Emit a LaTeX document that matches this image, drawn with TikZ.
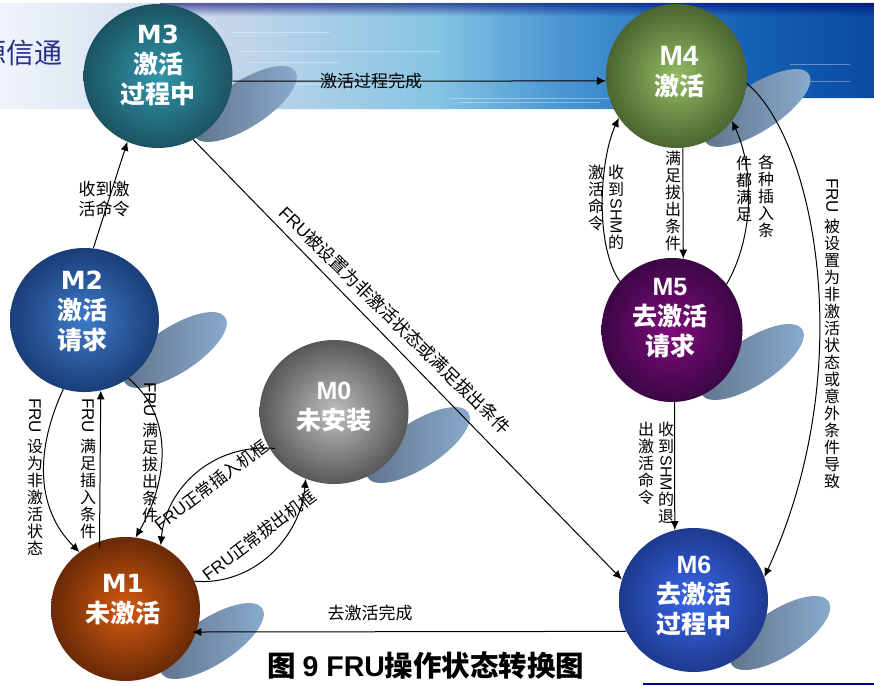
\documentclass[tikz,border=0pt]{standalone}
\usepackage{fontspec}
\setmainfont{Noto Sans CJK SC}
\newfontfamily\vdn{DejaVu Sans}
\newfontfamily\ari{Liberation Sans}
\usetikzlibrary{arrows.meta,shapes.geometric,fadings}
\definecolor{banner0}{HTML}{F0F4FA}
\definecolor{banner1}{HTML}{C5D6EA}
\definecolor{banner2}{HTML}{85C4E3}
\definecolor{banner3}{HTML}{4A97D3}
\definecolor{banner4}{HTML}{1460B5}
\definecolor{banner5}{HTML}{0A4BA3}
\definecolor{blobdark}{HTML}{5F7289}
\definecolor{bloblight}{HTML}{8BADD0}
\definecolor{titleblue}{HTML}{2A2F8F}
\definecolor{tealin}{HTML}{3196AA}
\definecolor{tealout}{HTML}{1B5462}
\definecolor{olivein}{HTML}{93BC64}
\definecolor{oliveout}{HTML}{4C6530}
\definecolor{plumin}{HTML}{800C7E}
\definecolor{plumout}{HTML}{3C0645}
\definecolor{royalin}{HTML}{3A68EA}
\definecolor{royalout}{HTML}{1E3A8F}
\definecolor{greyin}{HTML}{BEBEBE}
\definecolor{greyout}{HTML}{585858}
\definecolor{skyin}{HTML}{3F7AC8}
\definecolor{skyout}{HTML}{1A3E78}
\definecolor{rustin}{HTML}{D65A10}
\definecolor{rustout}{HTML}{692A06}
\pgfdeclarehorizontalshading{banner}{100bp}{
    color(0bp)=(banner0); color(25bp)=(banner0); color(38bp)=(banner1); color(50bp)=(banner2);
    color(57bp)=(banner3); color(68bp)=(banner4); color(75bp)=(banner5); color(100bp)=(banner5)}
\tikzset{
    state/.style = {ellipse,minimum width=149pt,minimum height=144pt,inner sep=0pt,inner color=#1in,outer color=#1out},
    statetext/.style = {align=center,text=white,font=\fontsize{25}{30}\selectfont\bfseries,inner sep=0pt},
    blob/.style = {shift={#1},rotate=33,left color=blobdark,right color=bloblight},
    conn/.style = {-{Latex[length=9pt,width=8pt]},line width=1pt},
    edgetext/.style = {align=center,inner sep=0pt,font=\fontsize{17}{20}\selectfont},
    vtext/.style = {align=center,inner sep=0pt,anchor=north,font=\fontsize{16}{17}\selectfont}
}
\newcommand{\fru}{\rotatebox{-90}{\ari\fontsize{17}{17}\selectfont FRU\hspace{5pt}}}
\newcommand{\shm}{\rotatebox{-90}{\ari SHM}}
\begin{document}
\begin{tikzpicture}[x=1pt,y=-1pt]
    \useasboundingbox (0,0) rectangle (874,685);
    \shade[shading=banner] (0,3) -- (874,3) -- (874,98) -- (790,98) -- (770,109) -- (0,109) -- cycle;
    \fill[blue!45!black,opacity=.6,path fading=south] (160,3) rectangle (874,16);
    \foreach \ya/\xa/\xb in {33/230/330,52/240/440,62/250/340,84/240/400,98/450/620,102/460/600,64/850/790,81/780/850}
        \draw[white,opacity=.35,line width=1pt] (\xa,\ya) -- (\xb,\ya);
    \node (brand) [anchor=east,text=titleblue,font=\fontsize{28}{28}\selectfont,inner sep=0pt] at (63,53) {源信通};
    \fill[blue!55!black] (643,683) rectangle (874,685);

    \shade[blob={(245,104)}] (0,0) ellipse [x radius=60,y radius=23];
    \shade[blob={(757,108)}] (0,0) ellipse [x radius=62,y radius=23];
    \shade[blob={(752,362)}] (0,0) ellipse [x radius=60,y radius=23];
    \shade[blob={(780,633)}] (0,0) ellipse [x radius=58,y radius=23];
    \shade[blob={(418,445)}] (0,0) ellipse [x radius=60,y radius=23];
    \shade[blob={(175,350)}] (0,0) ellipse [x radius=60,y radius=23];
    \shade[blob={(212,641)}] (0,0) ellipse [x radius=60,y radius=23];

    \node (m3) [state=teal] at (158,76) {};
    \node (m4) [state=olive,minimum width=141pt] at (676.5,76) {};
    \node (m5) [state=plum,minimum width=141pt] at (672,330) {};
    \node (m6) [state=royal] at (693.5,600) {};
    \node (m0) [state=grey] at (334,412) {};
    \node (m2) [state=sky] at (84.5,320) {};
    \node (m1) [state=rust] at (125.5,609) {};

    \node (m3t) [statetext] at (158,65) {{\vdn M3}\\激活\\过程中};
    \node (m4t) [statetext] at (679,72) {{\ari\fontsize{28}{30}\selectfont M4}\\激活};
    \node (m5t) [statetext] at (670,318) {{\ari M5}\\去激活\\请求};
    \node (m6t) [statetext] at (694,596) {{\ari M6}\\去激活\\过程中};
    \node (m0t) [statetext] at (334,407) {{\ari M0}\\未安装};
    \node (m2t) [statetext] at (82,311) {{\vdn M2}\\激活\\请求};
    \node (m1t) [statetext] at (123,600) {{\vdn M1}\\未激活};

    \draw[conn] (m3.-4) -- (m4.184);
    \draw[conn] (m2.83) -- (m3.245);
    \draw[conn] (m3.-61) -- (m6.164);
    \draw[conn] (m4.-85) -- (m5.81);
    \draw[conn] (m5.137) to[out=125,in=245,looseness=.7] (m4.216);
    \draw[conn] (m5.40) to[out=60,in=-65,looseness=.85] (m4.-39);
    \draw[conn] (m4.-6) .. controls (815,140) and (860,370) .. (m6.18);
    \draw[conn] (m5.-88) -- (m6.105);
    \draw[conn,shorten >=-4pt] (m6.205) -- (m1.-18);
    \draw[conn] (m2.253) to[out=245,in=135] (m1.129);
    \draw[conn,shorten <=-6pt] (m1.111.5) -- (m2.-77);
    \draw[conn] (m2.-53) to[out=-40,in=60] (m1.82);
    \draw[conn,shorten <=-6pt] (m0.209) to[out=175,in=85] (m1.61);
    \draw[conn] (m1.22) to[out=-5,in=-95] (m0.247);

    \node (l34) [edgetext] at (371,81) {激活过程完成};
    \node (l23) [edgetext] at (104,199) {收到激\\活命令};
    \node (l36) [edgetext,rotate=-44.5,font=\fontsize{17.5}{20}\selectfont] at (395,320) {{\ari FRU}被设置为非激活状态或满足拔出条件};
    \node (l61) [edgetext] at (370,613) {去激活完成};
    \node (l01) [edgetext,rotate=37] at (211,485) {{\ari FRU}正常插入机框};
    \node (l10) [edgetext,rotate=37] at (259,535) {{\ari FRU}正常拔出机框};

    \node (l21) [vtext] at (35,398) {\fru\\设\\为\\非\\激\\活\\状\\态};
    \node (l12) [vtext] at (88,398) {\fru\\满\\足\\插\\入\\条\\件};
    \node (l21b) [vtext] at (150,382) {\fru\\满\\足\\拔\\出\\条\\件};
    \node (l45) [vtext] at (673,151) {满\\足\\拔\\出\\条\\件};
    \node (l54a) [vtext] at (766,155) {各\\种\\插\\入\\条};
    \node (l54b) [vtext] at (744,156) {件\\都\\满\\足};
    \node (l54c) [vtext] at (616,165) {收\\到\\[-14pt]\shm\\的};
    \node (l54d) [vtext] at (596,165) {激\\活\\命\\令};
    \node (l56a) [vtext] at (666,422) {收\\到\\[-14pt]\shm\\的\\退};
    \node (l56b) [vtext] at (646,422) {出\\激\\活\\命\\令};
    \node (l46) [vtext] at (832,178) {\fru\\被\\设\\置\\为\\非\\激\\活\\状\\态\\或\\意\\外\\条\\件\\导\\致};

    \node (caption) [inner sep=0pt,font=\fontsize{28.5}{30}\selectfont\bfseries] at (426,666) {图 {\ari 9 FRU}操作状态转换图};
\end{tikzpicture}
\end{document}
